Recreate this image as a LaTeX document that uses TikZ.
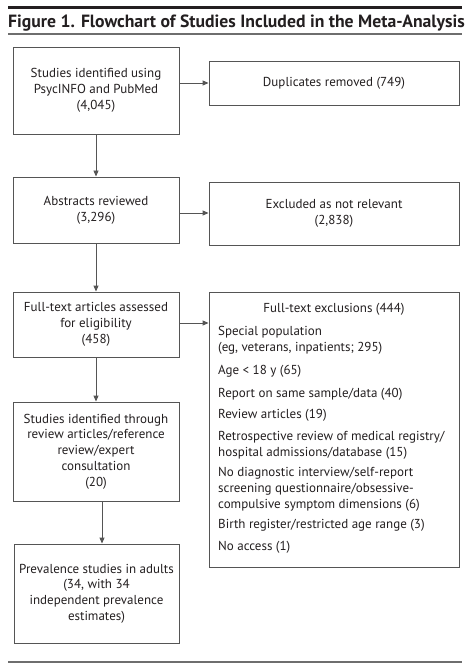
\documentclass[tikz,border=0pt]{standalone}
\usepackage{fontspec}
\setmainfont{PT Sans}
\usetikzlibrary{arrows.meta}
\definecolor{linegray}{HTML}{555555}
\definecolor{rulegray}{HTML}{6E6E6E}
\definecolor{txt}{HTML}{231F20}
\newcommand{\bxfont}{\fontsize{13}{15.75}\selectfont}
\newcommand{\lsfont}{\fontsize{13}{16}\selectfont}
\begin{document}
\begin{tikzpicture}[x=1pt,y=-1pt,
  box/.style={draw=linegray, line width=0.9pt, inner sep=0pt, align=center, font=\bxfont, text=txt},
  arr/.style={draw=linegray, line width=0.9pt, -{Triangle[length=6pt,width=5pt]}},
  plain/.style={inner sep=0pt, font=\bxfont, text=txt},
]
\useasboundingbox (0,0) rectangle (474,671);
\fill[white] (0,0) rectangle (474,671);
\draw[line width=3pt, txt] (8,7.5) -- (462,7.5);
\node[anchor=base west, font=\bfseries\fontsize{17.7}{20}\selectfont, inner sep=0pt, text=txt] (title) at (8,27.7) {Figure 1. Flowchart of Studies Included in the Meta-Analysis};
\draw[rulegray, line width=1.2pt] (8,34) -- (462,34);

\node[box, minimum width=166pt, minimum height=87pt] (b1) at (96,90.5) {Studies identified using\\PsycINFO and PubMed\\(4,045)};
\node[box, minimum width=250pt, minimum height=44pt] (d1) at (334,83) {Duplicates removed (749)};
\node[box, minimum width=166pt, minimum height=66pt] (b2) at (96,210) {Abstracts reviewed\\(3,296)};
\node[box, minimum width=250pt, minimum height=63pt] (d2) at (334,213.5) {Excluded as not relevant\\(2,838)};
\node[box, minimum width=166pt, minimum height=65pt] (b3) at (96,324.5) {Full-text articles assessed\\for eligibility\\(458)};
\node[box, minimum width=250pt, minimum height=275pt] (d3) at (334,429.5) {};
\node[box, minimum width=166pt, minimum height=99pt] (b4) at (96,451.5) {Studies identified through\\review articles/reference\\review/expert\\consultation\\(20)};
\node[box, minimum width=165pt, minimum height=99pt] (b5) at (96.5,593.5) {Prevalence studies in adults\\(34, with 34\\independent prevalence\\estimates)};

\node[plain] (d3h) at (334,309) {Full-text exclusions (444)};
\node[plain, font=\lsfont, anchor=north west, align=left] (d3l) at (218,326.5) {Special population\\(eg, veterans, inpatients; 295)\\[7pt]
Age < 18 y (65)\\[7pt]
Report on same sample/data (40)\\[5pt]
Review articles (19)\\[6pt]
Retrospective review of medical registry/\\hospital admissions/database (15)\\[4pt]
No diagnostic interview/self-report\\screening questionnaire/obsessive-\\compulsive symptom dimensions (6)\\[4pt]
Birth register/restricted age range (3)\\[6pt]
No access (1)};

\draw[arr] (b1.east |- d1.west) -- (d1.west);
\draw[arr] (b2.east |- 0,213) -- (d2.west |- 0,213);
\draw[arr] (b3.east |- 0,323) -- (d3.west |- 0,323);
\draw[arr] (b1.south) -- (b2.north);
\draw[arr] (b2.south) -- (b3.north);
\draw[arr] (b3.south) -- (b4.north);
\draw[arr] (b4.south -| 102,0) -- (b5.north -| 102,0);

\draw[rulegray, line width=1.5pt] (8,662) -- (462,662);
\end{tikzpicture}
\end{document}
